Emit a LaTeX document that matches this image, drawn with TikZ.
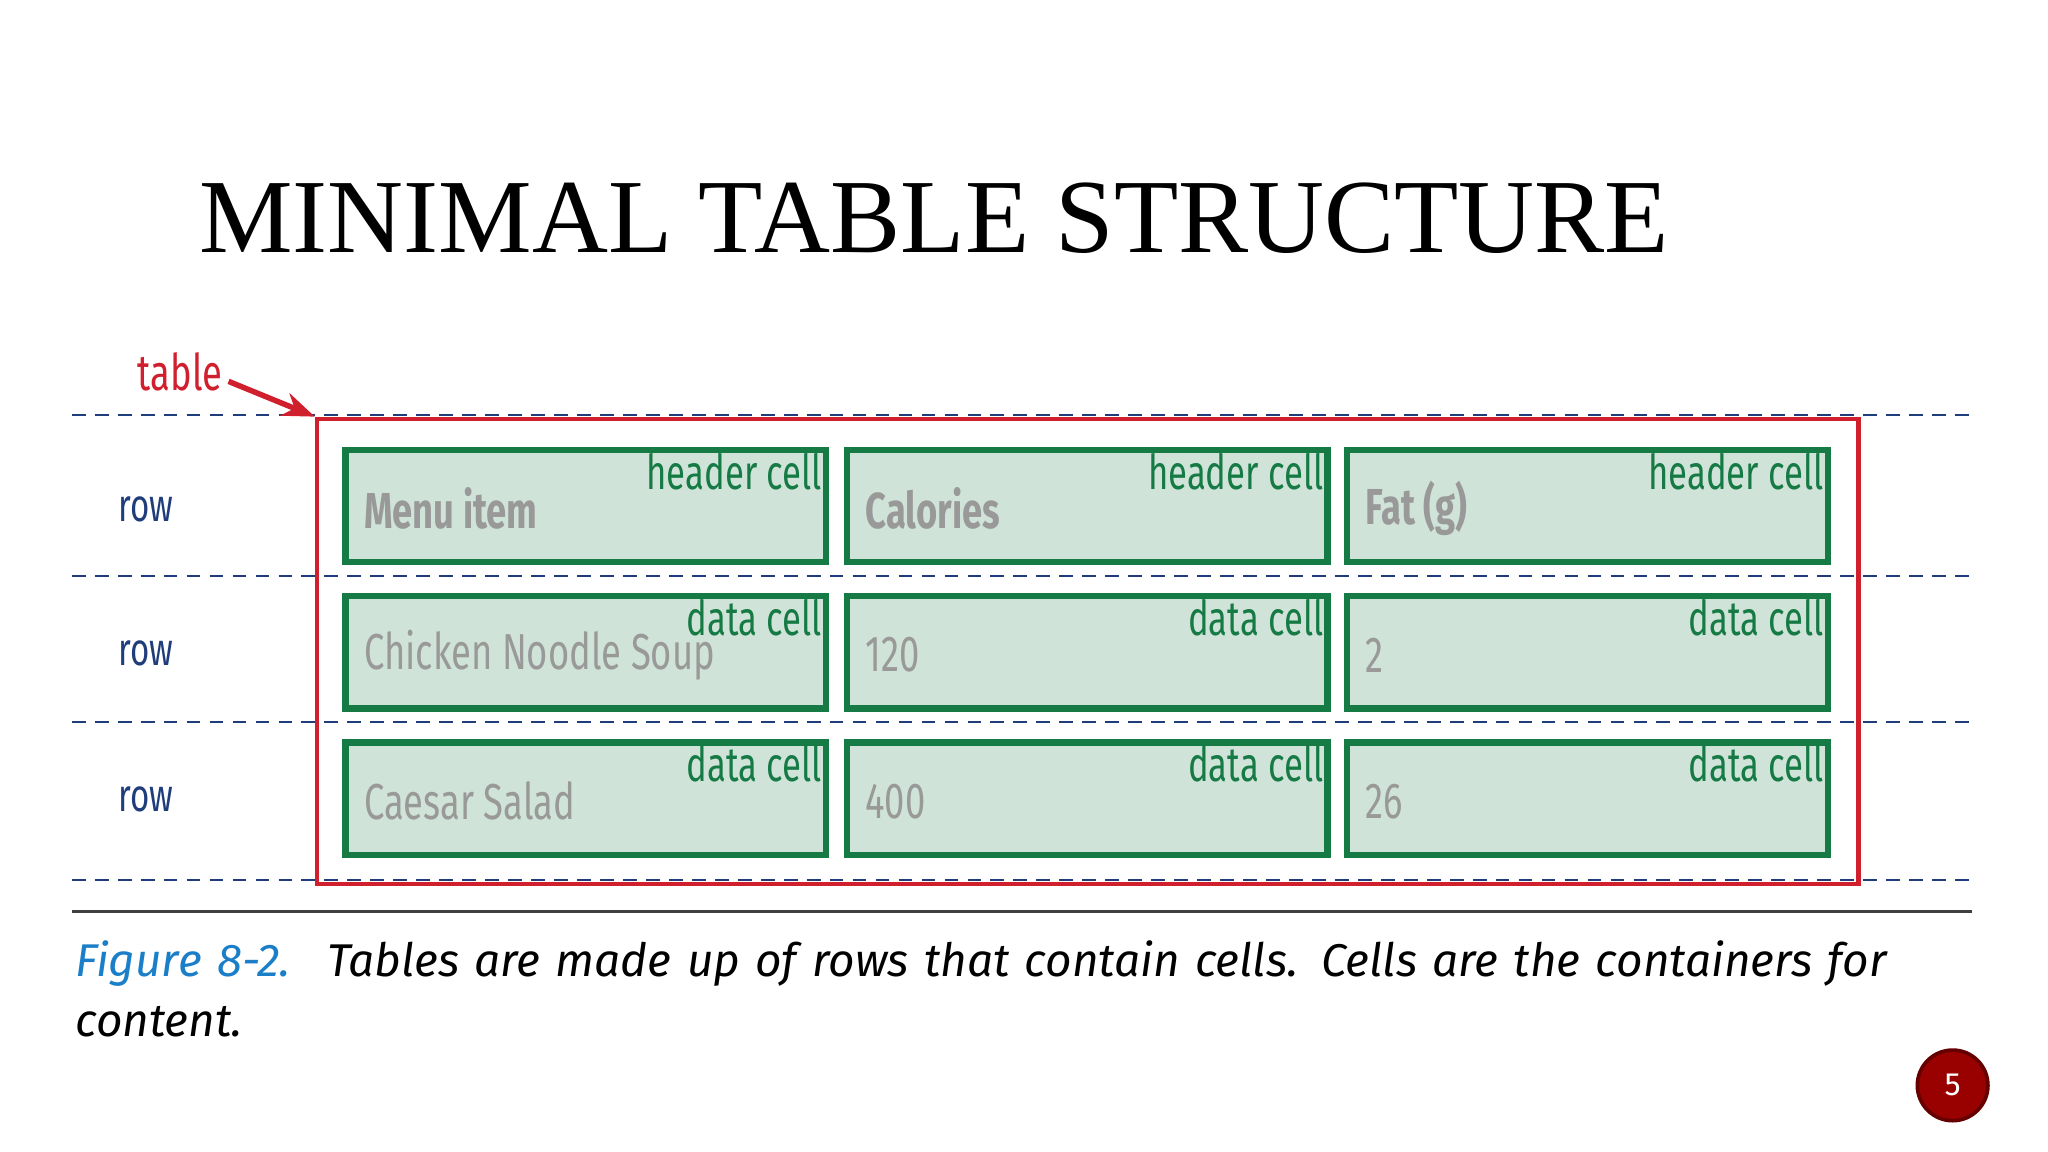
\documentclass[tikz,border=0pt]{standalone}
\usepackage{fontspec}
\setmainfont{Liberation Serif}
\newfontfamily\cond[FakeStretch=0.72]{Fira Sans}
\newfontfamily\capf{Fira Sans}
\usetikzlibrary{arrows.meta}
\definecolor{rowblue}{HTML}{1F3D7A}
\definecolor{tred}{HTML}{D0202E}
\definecolor{cellfill}{HTML}{CFE3D8}
\definecolor{cellline}{HTML}{167A45}
\definecolor{figblue}{HTML}{1A7FC8}
\tikzset{
 rowline/.style={rowblue, dash pattern=on 3pt off 2pt, line width=0.5pt},
 celllab/.style={text=cellline, font=\cond\fontsize{10.5}{12}\selectfont, anchor=north east, inner sep=0pt},
 cellval/.style={text=black!40, font=\cond\fontsize{11}{13}\selectfont, anchor=west, inner sep=0pt},
 rowlab/.style={text=rowblue, font=\cond\fontsize{10}{12}\selectfont},
}
\begin{document}
\begin{tikzpicture}[x=0.01cm,y=-0.01cm]
\useasboundingbox (0,0) rectangle (1568,882);
\node[anchor=base west, inner sep=0pt, font=\fontsize{22.9}{26}\selectfont] (title) at (152,193) {MINIMAL TABLE STRUCTURE};
\foreach \yy/\nm in {318/l1,441/l2,553/l3,674/l4}{
 \coordinate (\nm a) at (55,\yy); \coordinate (\nm b) at (1510,\yy);
 \draw[rowline] (\nm a) -- (\nm b);}
\node[draw=tred, line width=1pt, minimum width=1180*0.01cm, minimum height=356*0.01cm, anchor=north west, inner sep=0pt] (tab) at (241,319) {};
\node[text=tred, font=\cond\fontsize{11}{13}\selectfont, inner sep=0pt] (tlab) at (138,285) {table};
\coordinate (tarr) at (175,292);
\draw[tred, line width=1.2pt, -{Stealth[length=7pt]}] (tarr) -- (tab.north west);
\foreach \yy/\n in {390/1,500/2,612/3}{\node[rowlab] (row\n) at (112,\yy) {row};}
\foreach \r/\ty in {1/342,2/454,3/566}{
 \foreach \c/\tx in {1/262,2/646,3/1029}{
  \node[draw=cellline, fill=cellfill, line width=1.4pt, minimum width=368*0.01cm, minimum height=86*0.01cm, anchor=north west, inner sep=0pt] (c\r\c) at (\tx,\ty) {};
 }}
\foreach \c in {1,2,3}{\node[celllab] at ([xshift=-0.05cm,yshift=-0.04cm]c1\c.north east) {header cell};}
\foreach \r in {2,3}{\foreach \c in {1,2,3}{\node[celllab] at ([xshift=-0.05cm,yshift=-0.04cm]c\r\c.north east) {data cell};}}
\tikzset{hv/.style={cellval, font=\cond\fontseries{m}\fontsize{11}{13}\selectfont\bfseries}}
\node[hv] at ([xshift=0.16cm,yshift=-0.02cm]c11.west) {Menu item};
\node[hv] at ([xshift=0.16cm,yshift=-0.02cm]c12.west) {Calories};
\node[hv] at ([xshift=0.16cm,yshift=-0.02cm]c13.west) {Fat (g)};
\node[cellval] at ([xshift=0.16cm,yshift=-0.02cm]c21.west) {Chicken Noodle Soup};
\node[cellval] at ([xshift=0.16cm,yshift=-0.02cm]c22.west) {120};
\node[cellval] at ([xshift=0.16cm,yshift=-0.02cm]c23.west) {2};
\node[cellval] at ([xshift=0.16cm,yshift=-0.02cm]c31.west) {Caesar Salad};
\node[cellval] at ([xshift=0.16cm,yshift=-0.02cm]c32.west) {400};
\node[cellval] at ([xshift=0.16cm,yshift=-0.02cm]c33.west) {26};
\coordinate (ra) at (55,698); \coordinate (rb) at (1510,698);
\draw[line width=0.6pt, draw=black!75] (ra) -- (rb);
\node[anchor=base west, inner sep=0pt, font=\capf\itshape\fontsize{10}{13}\selectfont, align=left, text width=14.2cm] (cap) at (57,748)
 {\textcolor{figblue}{Figure 8-2.}\hspace{0.8em}Tables are made up of rows that contain cells. Cells are the containers for content.};
\node[circle, fill=red!60!black, draw=red!40!black, line width=0.8pt, minimum size=0.54cm, text=white, font=\capf\fontsize{7}{8}\selectfont, inner sep=0pt] (pg) at (1495,831) {5};
\end{tikzpicture}
\end{document}
